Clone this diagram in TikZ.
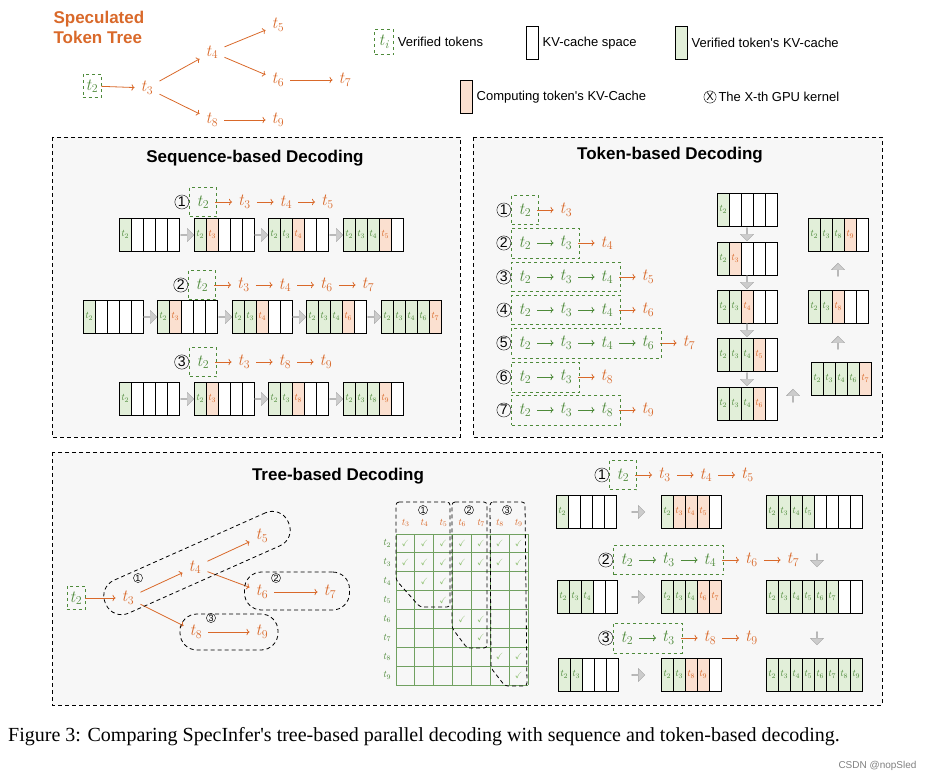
\documentclass[tikz,border=0pt]{standalone}
\usepackage{amssymb}
\usepackage{fontspec}
\newfontfamily\sffont{Liberation Sans}
\newfontfamily\capfont{Liberation Serif}
\usetikzlibrary{positioning,fit,shapes.arrows,arrows.meta}
\definecolor{tkg}{HTML}{4E8A3A}
\definecolor{tko}{HTML}{D9692A}
\definecolor{kvg}{HTML}{E2EFD9}
\definecolor{kvo}{HTML}{FBE0D0}
\definecolor{kvw}{HTML}{FFFFFF}
\definecolor{tkw}{HTML}{FFFFFF}
\definecolor{chk}{HTML}{8CBF6E}
\newcommand\tk[1]{\textit{t}\textsubscript{#1}}
\tikzset{
  panel/.style = {draw, thick, dash pattern=on 4pt off 3pt, fill=black!3},
  title/.style = {font=\sffont\bfseries\fontsize{17}{17}\selectfont},
  legend/.style = {font=\sffont\fontsize{13}{13}\selectfont, anchor=west, inner sep=1pt},
  tok/.style = {font=\fontsize{17}{17}\selectfont, inner xsep=6pt, inner ysep=1pt},
  tokarrow/.style = {-{To[length=3pt]}, line width=0.8pt},
  vbox/.style = {draw=tkg, dashed, thick, inner xsep=1pt, inner ysep=7pt},
  num/.style = {draw, circle, inner sep=0.6pt, font=\sffont\fontsize{14}{14}\selectfont},
  numsm/.style = {draw, circle, inner sep=0.4pt, font=\sffont\fontsize{9}{9}\selectfont},
  cell/.style = {draw, line width=1pt, minimum width=12pt, minimum height=33pt, inner sep=0pt,
    font=\fontsize{10}{10}\selectfont},
  garrow/.style = {single arrow, draw=gray!70, fill=gray!40, minimum height=13pt, minimum width=13pt,
    single arrow head extend=2pt, inner sep=0pt},
  capsule/.style = {draw, thick, dash pattern=on 4pt off 3pt, rounded corners=17pt},
}
% one row of KV-cache cells: name, left x, top y, cells
\newcommand\kvrow[4]{%
  \foreach \c/\l [count=\i] in {#4}{%
    \node[cell, fill=kv\c, text=tk\c] (#1-\i) at ({#2+(\i-0.5)*12},{#3+16.5}) {\tk{\l}};
  }}
% a chain of tokens: name, x of first, y, step, tokens
\newcommand\chain[5]{%
  \foreach \c/\l [count=\i] in {#5}{%
    \node[tok, text=tk\c] (#1-\i) at ({#2+(\i-1)*#4},#3) {\tk{\l}};
    \ifnum\i>1 \pgfmathtruncatemacro\j{\i-1}\draw[tokarrow, tk\c] (#1-\j) -- (#1-\i);\fi
  }}
\begin{document}
\begin{tikzpicture}[x=1pt, y=-1pt]
\useasboundingbox (0,0) rectangle (934,781);

% legend and speculated tree
\node[font=\sffont\bfseries\fontsize{17}{20}\selectfont, text=tko, align=left, anchor=north west] (spec) at (50,8) {Speculated\\Token Tree};
\node[tok, text=tkg, draw=tkg, dashed, inner xsep=3pt, inner ysep=5pt] (r2) at (92,86) {\tk2};
\node[tok, text=tko] (r3) at (147,88) {\tk3};
\node[tok, text=tko] (r4) at (212,52) {\tk4};
\node[tok, text=tko] (r5) at (278,25) {\tk5};
\node[tok, text=tko] (r6) at (278,80) {\tk6};
\node[tok, text=tko] (r7) at (345,80) {\tk7};
\node[tok, text=tko] (r8) at (212,120) {\tk8};
\node[tok, text=tko] (r9) at (278,120) {\tk9};
\draw[tokarrow, tko] (r2) -- (r3);
\draw[tokarrow, tko] (r3) -- (r4);
\draw[tokarrow, tko] (r3) -- (r8);
\draw[tokarrow, tko] (r4) -- (r5);
\draw[tokarrow, tko] (r4) -- (r6);
\draw[tokarrow, tko] (r6) -- (r7);
\draw[tokarrow, tko] (r8) -- (r9);

\node[tok, text=tkg, draw=tkg, dashed, inner xsep=4pt, inner ysep=6pt] (lg1) at (384,42) {\textit{t}\textsubscript{\textit{i}}};
\node[legend, right=3pt of lg1] (lg1t) {Verified tokens};
\node[cell, fill=kvw] (lg2) at (532,43) {};
\node[legend, right=3pt of lg2] (lg2t) {KV-cache space};
\node[cell, fill=kvg] (lg3) at (681,43) {};
\node[legend, right=3pt of lg3] (lg3t) {Verified token's KV-cache};
\node[cell, fill=kvo] (lg4) at (466,97) {};
\node[legend, right=3pt of lg4] (lg4t) {Computing token's KV-Cache};
\node[num, font=\sffont\fontsize{11}{11}\selectfont] (lg5) at (710,97) {X};
\node[legend, right=1pt of lg5] (lg5t) {The X-th GPU kernel};

% panels
\draw[panel] (52,137) rectangle (460,437);
\draw[panel] (473,137) rectangle (882,437);
\draw[panel] (52,452) rectangle (882,705);
\node[title] (seqt) at (255,158) {Sequence-based Decoding};
\node[title] (tokt) at (670,155) {Token-based Decoding};
\node[title] (tret) at (338,476) {Tree-based Decoding};

% sequence-based decoding
\chain{sa}{203}{202}{41.5}{g/2,o/3,o/4,o/5}
\node[vbox, fit=(sa-1)] (sa-box) {};
\node[num, left=0pt of sa-box] (sa-n) {1};
\kvrow{sa1}{119}{218}{g/2,w/,w/,w/,w/}
\kvrow{sa2}{194}{218}{g/2,o/3,w/,w/,w/}
\kvrow{sa3}{268}{218}{g/2,g/3,o/4,w/,w/}
\kvrow{sa4}{343}{218}{g/2,g/3,g/4,o/5,w/}
\node[garrow] (saa1) at (187,235) {};
\node[garrow] (saa2) at (261,235) {};
\node[garrow] (saa3) at (336,235) {};

\chain{sb}{202}{285}{41.5}{g/2,o/3,o/4,o/6,o/7}
\node[vbox, fit=(sb-1)] (sb-box) {};
\node[num, left=0pt of sb-box] (sb-n) {2};
\kvrow{sb1}{83}{300}{g/2,w/,w/,w/,w/}
\kvrow{sb2}{157}{300}{g/2,o/3,w/,w/,w/}
\kvrow{sb3}{232}{300}{g/2,g/3,o/4,w/,w/}
\kvrow{sb4}{306}{300}{g/2,g/3,g/4,o/6,w/}
\kvrow{sb5}{381}{300}{g/2,g/3,g/4,g/6,o/7}
\node[garrow] (sba1) at (150,317) {};
\node[garrow] (sba2) at (225,317) {};
\node[garrow] (sba3) at (299,317) {};
\node[garrow] (sba4) at (374,317) {};

\chain{sc}{203}{362}{41}{g/2,o/3,o/8,o/9}
\node[vbox, fit=(sc-1)] (sc-box) {};
\node[num, left=0pt of sc-box] (sc-n) {3};
\kvrow{sc1}{119}{382}{g/2,w/,w/,w/,w/}
\kvrow{sc2}{194}{382}{g/2,o/3,w/,w/,w/}
\kvrow{sc3}{268}{382}{g/2,g/3,o/8,w/,w/}
\kvrow{sc4}{343}{382}{g/2,g/3,g/8,o/9,w/}
\node[garrow] (sca1) at (187,399) {};
\node[garrow] (sca2) at (261,399) {};
\node[garrow] (sca3) at (336,399) {};

% token-based decoding
\chain{ta}{525}{210}{41}{g/2,o/3}
\node[vbox, fit=(ta-1)] (ta-box) {};
\node[num, left=0pt of ta-box] (ta-n) {1};
\chain{tb}{525}{243}{41}{g/2,g/3,o/4}
\node[vbox, fit=(tb-1)(tb-2)] (tb-box) {};
\node[num, left=0pt of tb-box] (tb-n) {2};
\chain{tc}{525}{277}{41}{g/2,g/3,g/4,o/5}
\node[vbox, fit=(tc-1)(tc-3)] (tc-box) {};
\node[num, left=0pt of tc-box] (tc-n) {3};
\chain{td}{525}{310}{41}{g/2,g/3,g/4,o/6}
\node[vbox, fit=(td-1)(td-3)] (td-box) {};
\node[num, left=0pt of td-box] (td-n) {4};
\chain{te}{525}{343}{41}{g/2,g/3,g/4,g/6,o/7}
\node[vbox, fit=(te-1)(te-4)] (te-box) {};
\node[num, left=0pt of te-box] (te-n) {5};
\chain{tf}{525}{377}{41}{g/2,g/3,o/8}
\node[vbox, fit=(tf-1)(tf-2)] (tf-box) {};
\node[num, left=0pt of tf-box] (tf-n) {6};
\chain{tg}{525}{410}{41}{g/2,g/3,g/8,o/9}
\node[vbox, fit=(tg-1)(tg-3)] (tg-box) {};
\node[num, left=0pt of tg-box] (tg-n) {7};

\kvrow{tk1}{717}{193}{g/2,w/,w/,w/,w/}
\kvrow{tk2}{717}{242}{g/2,o/3,w/,w/,w/}
\kvrow{tk3}{717}{290}{g/2,g/3,o/4,w/,w/}
\kvrow{tk4}{717}{338}{g/2,g/3,g/4,o/5,w/}
\kvrow{tk5}{717}{387}{g/2,g/3,g/4,o/6,w/}
\node[garrow, shape border rotate=270] (tka1) at (747,234) {};
\node[garrow, shape border rotate=270] (tka2) at (747,282) {};
\node[garrow, shape border rotate=270] (tka3) at (747,330) {};
\node[garrow, shape border rotate=270] (tka4) at (747,379) {};
\node[garrow, shape border rotate=45] (tka5) at (793,396) {};
\kvrow{tk6}{811}{362}{g/2,g/3,g/4,g/6,o/7}
\kvrow{tk7}{808}{290}{g/2,g/3,o/8,w/,w/}
\kvrow{tk8}{808}{218}{g/2,g/3,g/8,o/9,w/}
\node[garrow, shape border rotate=90] (tka6) at (838,343) {};
\node[garrow, shape border rotate=90] (tka7) at (838,270) {};

% tree-based decoding: token tree
\node[tok, text=tkg, draw=tkg, dashed, inner xsep=3pt, inner ysep=5pt] (u2) at (76,598) {\tk2};
\node[tok, text=tko] (u3) at (128,598) {\tk3};
\node[tok, text=tko] (u4) at (195,567) {\tk4};
\node[tok, text=tko] (u5) at (262,536) {\tk5};
\node[tok, text=tko] (u6) at (262,592) {\tk6};
\node[tok, text=tko] (u7) at (330,592) {\tk7};
\node[tok, text=tko] (u8) at (196,632) {\tk8};
\node[tok, text=tko] (u9) at (262,632) {\tk9};
\draw[tokarrow, tko] (u2) -- (u3);
\draw[tokarrow, tko] (u3) -- (u4);
\draw[tokarrow, tko] (u4) -- (u5);
\draw[tokarrow, tko] (u4) -- (u6);
\draw[tokarrow, tko] (u3) -- (u8);
\draw[tokarrow, tko] (u6) -- (u7);
\draw[tokarrow, tko] (u8) -- (u9);
\node[numsm] (un1) at (138,578) {1};
\node[numsm] (un2) at (276,578) {2};
\node[numsm] (un3) at (211,618) {3};
\node[capsule, rotate=24, minimum width=200pt, minimum height=36pt] (uc1) at (197,563) {};
\node[capsule, minimum width=105pt, minimum height=38pt] (uc2) at (297,591) {};
\node[capsule, minimum width=98pt, minimum height=36pt] (uc3) at (229,632) {};

% tree-based decoding: attention mask
\foreach \k in {0,...,7} \draw[tkg!80, thick] ({396+\k*18.86},534) -- ({396+\k*18.86},685);
\foreach \k in {0,...,8} \draw[tkg!80, thick] (396,{534+\k*18.88}) -- (528,{534+\k*18.88});
\foreach \l [count=\k from 0] in {3,...,9}
  \node[font=\fontsize{10}{10}\selectfont, text=tko] (mc\l) at ({396+(\k+0.5)*18.86},523) {\tk{\l}};
\foreach \l [count=\k from 0] in {2,...,9}
  \node[font=\fontsize{10}{10}\selectfont, text=tkg] (mr\l) at (387,{534+(\k+0.5)*18.88}) {\tk{\l}};
\foreach \cc/\rr in {0/0,1/0,2/0,3/0,4/0,5/0,6/0,0/1,1/1,2/1,3/1,4/1,5/1,6/1,1/2,2/2,2/3,3/4,4/4,4/5,5/6,6/6,6/7}
  \node[text=chk, font=\fontsize{9}{9}\selectfont] (ck\cc\rr) at ({396+(\cc+0.5)*18.86},{534+(\rr+0.5)*18.88}) {$\checkmark$};
\node[numsm] (mn1) at (423,510) {1};
\node[numsm] (mn2) at (469,510) {2};
\node[numsm] (mn3) at (507,510) {3};
\draw[thick, dash pattern=on 4pt off 3pt, rounded corners=3pt] (396,502) -- (450,502) -- (450,607) -- (420,607) -- (396,580) -- cycle;
\draw[thick, dash pattern=on 4pt off 3pt, rounded corners=3pt] (452,502) -- (487,502) -- (487,648) -- (467,648) -- (452,628) -- cycle;
\draw[thick, dash pattern=on 4pt off 3pt, rounded corners=3pt] (490,502) -- (525,502) -- (527,686) -- (505,686) -- (491,668) -- cycle;

% tree-based decoding: kernels
\chain{ra}{623}{475}{41.5}{g/2,o/3,o/4,o/5}
\node[vbox, fit=(ra-1)] (ra-box) {};
\node[num, left=0pt of ra-box] (ra-n) {1};
\kvrow{ra1}{556}{495}{g/2,w/,w/,w/,w/}
\kvrow{ra2}{661}{495}{g/2,o/3,o/4,o/5,w/}
\kvrow{ra3}{766}{495}{g/2,g/3,g/4,g/5,w/,w/,w/,w/}
\node[garrow] (raa) at (638,512) {};

\chain{rb}{627}{560}{41.5}{g/2,g/3,g/4,o/6,o/7}
\node[vbox, fit=(rb-1)(rb-3)] (rb-box) {};
\node[num, left=0pt of rb-box] (rb-n) {2};
\node[garrow, shape border rotate=270] (rbd) at (817,560) {};
\kvrow{rb1}{557}{580}{g/2,g/3,g/4,w/,w/}
\kvrow{rb2}{661}{580}{g/2,g/3,g/4,o/6,o/7}
\kvrow{rb3}{766}{580}{g/2,g/3,g/4,g/5,g/6,g/7,w/,w/}
\node[garrow] (rba) at (638,597) {};

\chain{rc}{627}{638}{41.5}{g/2,g/3,o/8,o/9}
\node[vbox, fit=(rc-1)(rc-2)] (rc-box) {};
\node[num, left=0pt of rc-box] (rc-n) {3};
\node[garrow, shape border rotate=270] (rcd) at (817,638) {};
\kvrow{rc1}{558}{658}{g/2,g/3,w/,w/,w/}
\kvrow{rc2}{661}{658}{g/2,g/3,o/8,o/9,w/}
\kvrow{rc3}{766}{658}{g/2,g/3,g/4,g/5,g/6,g/7,g/8,g/9}
\node[garrow] (rca) at (638,675) {};

% caption
\node[anchor=north west, text width=914pt, inner sep=0pt, align=justify,
  font=\capfont\fontsize{20}{25}\selectfont] (captxt) at (8,727)
  {Figure 3: Comparing SpecInfer's tree-based parallel decoding with sequence and token-based decoding.};
\node[anchor=east, text=gray, font=\sffont\fontsize{10}{10}\selectfont] (wm) at (920,766) {CSDN @nopSled};
\end{tikzpicture}
\end{document}
